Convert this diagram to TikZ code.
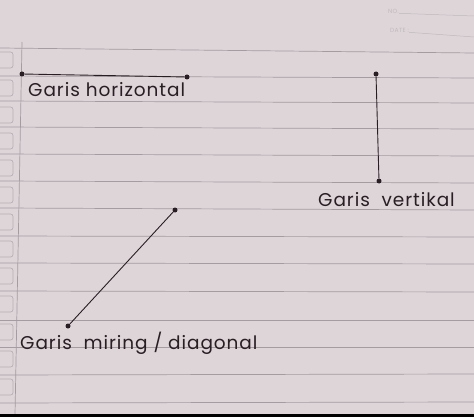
\documentclass[tikz,border=0pt]{standalone}
\usepackage{fontspec}
\setmainfont{Poppins}[LetterSpace=5]
\definecolor{paper}{RGB}{222,213,217}
\definecolor{rule}{RGB}{165,156,161}
\definecolor{ink}{RGB}{40,30,35}
\begin{document}
\begin{tikzpicture}[x=1pt,y=-1pt,
  dot/.style={circle,fill=ink,inner sep=0pt,minimum size=5pt},
  seg/.style={draw=ink,line width=0.9pt},
  lbl/.style={text=ink,font=\fontsize{18.5}{18.5}\selectfont,inner sep=0pt,anchor=west},
  ruleline/.style={draw=rule,line width=0.7pt},
  faint/.style={text=rule!70,font=\fontsize{6}{6}\selectfont,inner sep=0pt,anchor=west}]
\fill[paper] (0,0) rectangle (474,417);
\useasboundingbox (0,0) rectangle (474,417);
% ruled lines
\foreach \y/\z in {48/53,76/78,101/103,127/129,154/156,181/183,208/210,236/237,263/264,291/292,320/320,347/347,375/374,403/402}
  \draw[ruleline] (0,\y) -- (474,\z);
% margin line
\draw[ruleline] (22,42) -- (15,415);
% binding tabs
\foreach \y in {48,76,103,129,156,183,210,237,264,292,320,347,375}
  \draw[rule!80,rounded corners=2.5pt,line width=0.7pt] (-4,\y+4) rectangle (13,\y+20);
% header
\node[faint] (no) at (388,11) {NO.};
\node[faint] (date) at (390,30) {DATE :};
\coordinate (noend) at (474,16);
\coordinate (dateend) at (474,37);
\draw[rule!70,line width=0.5pt] (no.south east) -- (noend);
\draw[rule!70,line width=0.5pt] (date.south east) -- (dateend);
% bottom dark strip
\fill[black] (0,414) rectangle (474,417);
% horizontal
\node[dot] (h1) at (22,74) {};
\node[dot] (h2) at (187,77) {};
\draw[seg] (h1) -- (h2);
\node[lbl] (hl) at (28,90) {Garis horizontal};
% vertical
\node[dot] (v1) at (376,74) {};
\node[dot] (v2) at (379,181) {};
\draw[seg] (v1) -- (v2);
\node[lbl] (vl) at (318,200) {Garis\ \ vertikal};
% diagonal
\node[dot] (d1) at (175,210) {};
\node[dot] (d2) at (68,326) {};
\draw[seg] (d1) -- (d2);
\node[lbl] (dl) at (20,343) {Garis\ \ miring / diagonal};
\end{tikzpicture}
\end{document}
